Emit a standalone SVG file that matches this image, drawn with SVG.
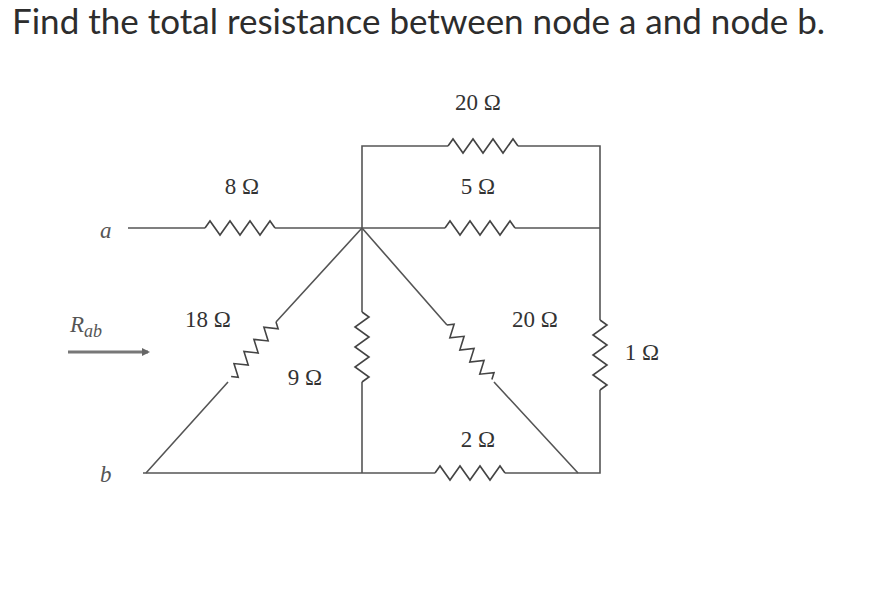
<svg xmlns="http://www.w3.org/2000/svg" width="891" height="594" viewBox="0 0 891 594">
<style>
.w{stroke:#555;stroke-width:1.6;fill:none}
.r{stroke:#444;stroke-width:1.6;fill:none;stroke-linejoin:miter}
.l{font-family:"Liberation Serif",serif;font-size:23px;fill:#333}
.i{font-family:"Liberation Serif",serif;font-size:23px;font-style:italic;fill:#555}
</style>
<defs>
<path id="res" d="M0,0 l5,-7 l10,14 l10,-14 l10,14 l10,-14 l10,14 l10,-14 l5,7" class="r"/>
<path id="resd" d="M0,0 l4,-6 l8,12 l8,-12 l8,12 l8,-12 l8,12 l8,-12 l8,12 l8,-12 l4,6" class="r"/>
<marker id="ah" markerWidth="8" markerHeight="8" refX="6" refY="4" orient="auto" markerUnits="userSpaceOnUse"><path d="M0,0 L8,4 L0,8 z" fill="#666"/></marker>
</defs>
<rect width="891" height="594" fill="#fff"/>
<text x="12" y="34" font-family="Lato,sans-serif" font-size="35" fill="#2d2d2d">Find the total resistance between node a and node b.</text>
<g id="connectors">
<path class="w" d="M128,228 H205 M275,228 H445 M515,228 H600"/>
<path class="w" d="M362,228 V146 H448 M518,146 H600 V320 M600,390 V473 H505 M435,473 H143"/>
<path class="w" d="M362,228 V312 M362,382 V473"/>
<path class="w" d="M362,228 L276,322 M228,382 L146,473"/>
<path class="w" d="M362,228 L447,325 M494,382 L578,473"/>
<line x1="68" y1="352" x2="148" y2="352" stroke="#777" stroke-width="3" marker-end="url(#ah)"/>
</g>
<g id="r8"><use href="#res" transform="translate(205,228)"/><text class="l" x="242" y="194" text-anchor="middle">8 Ω</text></g>
<g id="r20top"><use href="#res" transform="translate(448,146)"/><text class="l" x="478" y="110" text-anchor="middle">20 Ω</text></g>
<g id="r5"><use href="#res" transform="translate(445,228)"/><text class="l" x="478" y="194" text-anchor="middle">5 Ω</text></g>
<g id="r2"><use href="#res" transform="translate(435,473)"/><text class="l" x="478" y="447" text-anchor="middle">2 Ω</text></g>
<g id="r9"><use href="#res" transform="translate(362,312) rotate(90)"/><text class="l" x="305" y="385" text-anchor="middle">9 Ω</text></g>
<g id="r1"><use href="#res" transform="translate(600,320) rotate(90)"/><text class="l" x="642" y="360" text-anchor="middle">1 Ω</text></g>
<g id="r18"><use href="#resd" transform="translate(276,322) rotate(129.5) scale(0.98,1)"/><text class="l" x="208" y="327" text-anchor="middle">18 Ω</text></g>
<g id="r20d"><use href="#resd" transform="translate(447,325) rotate(50.5) scale(0.98,1)"/><text class="l" x="535" y="327" text-anchor="middle">20 Ω</text></g>
<g id="na"><text class="i" x="100" y="238">a</text></g>
<g id="nb"><text class="i" x="100" y="482">b</text></g>
<g id="rab"><text class="i" x="70" y="332" font-size="25">R<tspan font-size="18" dy="5">ab</tspan></text></g>
</svg>
